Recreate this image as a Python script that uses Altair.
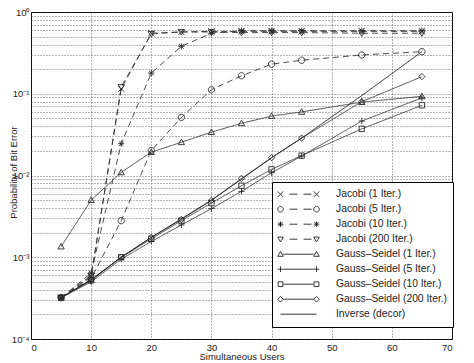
import json
import altair as alt
import pandas as pd

# ---------------- data ----------------
users = [5, 10, 15, 20, 25, 30, 35, 40, 45, 55, 65]

jacobi_1 = [3.2e-4, 5.8e-4, 0.115, 0.55, 0.57, 0.58, 0.58, 0.58, 0.58, 0.58, 0.58]
jacobi_5 = [3.2e-4, 5.5e-4, 2.8e-3, 0.0202, 0.0514, 0.112, 0.166, 0.23, 0.257, 0.298, 0.327]
jacobi_10 = [3.2e-4, 6.4e-4, 0.0245, 0.179, 0.38, 0.55, 0.59, 0.59, 0.59, 0.59, 0.59]
jacobi_200 = [3.2e-4, 6.0e-4, 0.121, 0.54, 0.57, 0.57, 0.56, 0.56, 0.56, 0.55, 0.55]
gs_1 = [1.35e-3, 5.0e-3, 0.0109, 0.0193, 0.0255, 0.0339, 0.0435, 0.0533, 0.060, 0.079, 0.093]
gs_5 = [3.2e-4, 5.0e-4, 9.5e-4, 1.56e-3, 2.48e-3, 3.93e-3, 6.4e-3, 0.0108, 0.0173, 0.0464, 0.089]
gs_10 = [3.2e-4, 5.2e-4, 1.0e-3, 1.68e-3, 2.8e-3, 4.6e-3, 7.5e-3, 0.0119, 0.0175, 0.0372, 0.0723]
gs_200 = [3.2e-4, 5.3e-4, 1.0e-3, 1.75e-3, 2.9e-3, 4.95e-3, 9.2e-3, 0.0165, 0.0287, 0.080, 0.162]
inverse = [3.2e-4, 5.3e-4, 1.0e-3, 1.75e-3, 2.95e-3, 5.0e-3, 9.0e-3, 0.0165, 0.0287, 0.095, 0.327]

series_names = [
    "Jacobi (1 Iter.)", "Jacobi (5 Iter.)", "Jacobi (10 Iter.)", "Jacobi (200 Iter.)",
    "Gauss\u2013Seidel (1 Iter.)", "Gauss\u2013Seidel (5 Iter.)",
    "Gauss\u2013Seidel (10 Iter.)", "Gauss\u2013Seidel (200 Iter.)", "Inverse (decor)",
]
series_values = [jacobi_1, jacobi_5, jacobi_10, jacobi_200, gs_1, gs_5, gs_10, gs_200, inverse]

x_ticks = [0, 10, 20, 30, 40, 50, 60, 70]
y_tick_labels = ["10\u207b\u2074", "10\u207b\u00b3", "10\u207b\u00b2", "10\u207b\u00b9", "10\u2070"]
x_title = "Simultaneous Users"
y_title = "Probability of Bit Error"

# ---------------- table ----------------
rows = []
for name, vals in zip(series_names, series_values):
    for u, v in zip(users, vals):
        rows.append({"users": u, "pe": v, "series": name})
df = pd.DataFrame(rows)

# ---------------- styling helpers ----------------
marker_kind = ["x", "circle", "star", "tri_down", "tri_up", "plus", "square", "diamond", None]
dashed = [True, True, True, True, False, False, False, False, False]


def f(v):
    return f"{v:.3f}"


def marker(kind, cx, s):
    if kind == "x":
        return (f"M{f(cx-s)},{f(-s)}L{f(cx+s)},{f(s)}"
                f"M{f(cx-s)},{f(s)}L{f(cx+s)},{f(-s)}")
    if kind == "circle":
        return (f"M{f(cx+s)},0A{f(s)},{f(s)} 0 1 1 {f(cx-s)},0"
                f"A{f(s)},{f(s)} 0 1 1 {f(cx+s)},0Z")
    if kind == "star":
        d = s * 0.75
        return (f"M{f(cx-s)},0L{f(cx+s)},0M{f(cx)},{f(-s)}L{f(cx)},{f(s)}"
                f"M{f(cx-d)},{f(-d)}L{f(cx+d)},{f(d)}M{f(cx-d)},{f(d)}L{f(cx+d)},{f(-d)}")
    if kind == "tri_down":
        return f"M{f(cx-s)},{f(-0.75*s)}L{f(cx+s)},{f(-0.75*s)}L{f(cx)},{f(s)}Z"
    if kind == "tri_up":
        return f"M{f(cx-s)},{f(0.75*s)}L{f(cx+s)},{f(0.75*s)}L{f(cx)},{f(-s)}Z"
    if kind == "plus":
        return f"M{f(cx-s)},0L{f(cx+s)},0M{f(cx)},{f(-s)}L{f(cx)},{f(s)}"
    if kind == "square":
        return (f"M{f(cx-s*0.85)},{f(-s*0.85)}L{f(cx+s*0.85)},{f(-s*0.85)}"
                f"L{f(cx+s*0.85)},{f(s*0.85)}L{f(cx-s*0.85)},{f(s*0.85)}Z")
    if kind == "diamond":
        return f"M{f(cx-s)},0L{f(cx)},{f(-s)}L{f(cx+s)},0L{f(cx)},{f(s)}Z"
    return ""


# legend symbol: "marker - - marker" drawn as a single wide path
R = 21.0  # half width in px of legend symbol
MS = 2.8  # legend marker half size in px
legend_paths = []
for kind, dsh in zip(marker_kind, dashed):
    if kind is None:
        p = f"M{f(-18/R)},0L{f(18/R)},0"
    else:
        s = MS / R
        p = marker(kind, -18 / R, s) + marker(kind, 18 / R, s)
        if dsh:
            p += f"M{f(-9/R)},0L{f(-1/R)},0M{f(5/R)},0L{f(13/R)},0"
        else:
            p += f"M{f((-18+MS)/R)},0L{f((18-MS)/R)},0"
    legend_paths.append(p)

point_names = [n for n, k in zip(series_names, marker_kind) if k is not None]
point_paths = [marker(k, 0, 1) for k in marker_kind if k is not None]
dash_range = [[6, 4] if d else [1, 0] for d in dashed]
color_range = ["#3a3a3a"] * 8 + ["#111111"]

grid_values = [m * 10.0 ** e for e in range(-4, 0) for m in range(1, 10)] + [1.0]

lexp = "round(log(datum.value)/LN10)"
y_label_expr = (f"abs(log(datum.value)/LN10 - {lexp}) < 0.001 ? "
                f"{json.dumps(y_tick_labels, ensure_ascii=False)}[{lexp}+4] : ''")

FONT = "Liberation Sans"
TXT = "#222222"
GRID = "#444444"

x_enc = alt.X(
    "users:Q",
    scale=alt.Scale(domain=[0, 70], nice=False, zero=False),
    axis=alt.Axis(values=x_ticks, title=x_title, grid=True, gridDash=[1, 2],
                  gridColor=GRID, gridWidth=0.8, domain=False, ticks=False,
                  labelFont=FONT, labelFontSize=9.5, labelColor=TXT, labelPadding=3,
                  titleFont=FONT, titleFontSize=9.5, titleFontWeight="normal",
                  titleColor=TXT, titlePadding=0),
)
y_enc = alt.Y(
    "pe:Q",
    scale=alt.Scale(type="log", domain=[1e-4, 1], nice=False),
    axis=alt.Axis(values=grid_values, labelExpr=y_label_expr, labelOverlap=False,
                  title=y_title, grid=True, gridDash=[1, 2], gridColor=GRID,
                  gridWidth=0.8, domain=False, ticks=False,
                  labelFont=FONT, labelFontSize=9.5, labelColor=TXT, labelPadding=2,
                  titleFont=FONT, titleFontSize=9.5, titleFontWeight="normal",
                  titleColor=TXT, titleX=-13, titleY=160),
)

base = alt.Chart(df)

lines = base.mark_line(strokeWidth=0.9).encode(
    x=x_enc, y=y_enc,
    strokeDash=alt.StrokeDash("series:N", scale=alt.Scale(domain=series_names, range=dash_range),
                              legend=None),
    color=alt.Color("series:N", scale=alt.Scale(domain=series_names, range=color_range),
                    legend=None),
    detail="series:N",
)

points = base.transform_filter(
    alt.FieldOneOfPredicate(field="series", oneOf=point_names)
).mark_point(filled=False, size=40, strokeWidth=0.9, color="#2a2a2a", opacity=1).encode(
    x="users:Q", y="pe:Q",
    shape=alt.Shape("series:N", scale=alt.Scale(domain=point_names, range=point_paths),
                    legend=None),
)

legend_layer = base.transform_filter("false").mark_point(
    filled=False, size=int((2 * R) ** 2), strokeWidth=1, color="#222222", opacity=1
).encode(
    x="users:Q", y="pe:Q",
    shape=alt.Shape(
        "series:N",
        scale=alt.Scale(domain=series_names, range=legend_paths),
        legend=alt.Legend(
            title=None, orient="none", legendX=241, legendY=170,
            padding=5, labelFont=FONT, labelFontSize=10.3, labelColor=TXT,
            labelOffset=16, clipHeight=14.4, rowPadding=0,
            symbolSize=int((2 * R) ** 2), symbolStrokeWidth=0.9,
            symbolStrokeColor="#222222", symbolFillColor="white",
            strokeColor="#000000", fillColor="white", cornerRadius=0,
            labelExpr="datum.label + '\u00a0\u00a0\u00a0\u00a0\u00a0'",
        ),
    ),
)

chart = alt.layer(lines, points, legend_layer).resolve_scale(
    shape="independent"
).properties(
    width=421, height=327,
    autosize=alt.AutoSizeParams(type="none"),
    padding={"left": 23, "top": 4, "right": 14, "bottom": 24},
).configure_view(stroke="#000000", strokeWidth=1)

chart.save("out.html", embed_options={"renderer": "svg", "actions": False})
